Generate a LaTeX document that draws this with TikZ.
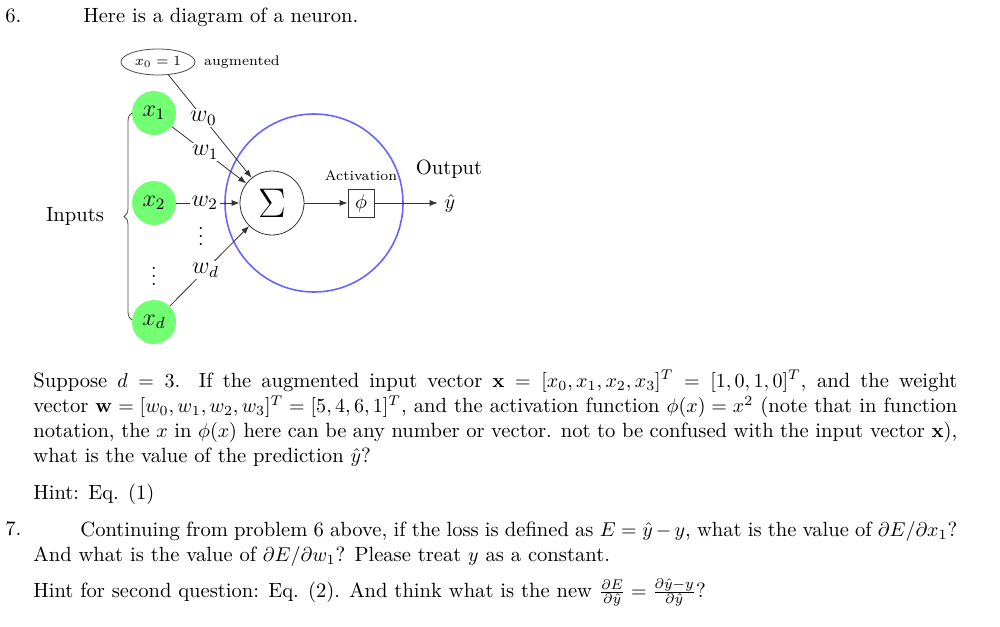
\documentclass[tikz,border=0pt]{standalone}
\usepackage{amsmath,amssymb}
\usetikzlibrary{arrows.meta,decorations.pathreplacing,shapes.geometric}
\begin{document}
\begin{tikzpicture}[x=0.5pt,y=-0.5pt,
  inp/.style={circle,fill=green!55!white,minimum size=22pt,inner sep=0pt},
  wlab/.style={fill=white,inner sep=1pt,font=\large},
  arr/.style={-{Latex[length=4pt]},draw=black!80},
  line/.style={anchor=base west,inner sep=0pt,font=\fontsize{10.3}{12.6}\selectfont},
  para/.style={anchor=north west,text width=462pt,align=justify,inner sep=0pt,font=\fontsize{10.3}{12.6}\selectfont}]
\useasboundingbox (0,0) rectangle (1000,626);
\node[line] (n6) at (5,23) {6.};
\node[line] (t6) at (83,23) {Here is a diagram of a neuron.};
% diagram
\node[ellipse,draw=black!70,minimum width=37pt,minimum height=13pt,inner sep=0pt,font=\scriptsize] (x0) at (158,62) {$x_0=1$};
\node[font=\scriptsize] (aug) at (242,62) {augmented};
\node[inp] (x1) at (154,113) {\large$x_1$};
\node[inp] (x2) at (154,203) {\large$x_2$};
\node[inp] (xd) at (154,322) {\large$x_d$};
\node (vd) at (154,270) {$\vdots$};
\draw[black!70,decorate,decoration={brace,amplitude=4pt}] (132,320) -- (132,113) coordinate (br);
\node[font=\fontsize{10.3}{12}\selectfont] (inputs) at (75,216) {Inputs};
\draw[blue!60,thick] (314,203) circle[radius=44.5pt];
\node[circle,draw=black!80,minimum size=32pt,inner sep=0pt,font=\huge] (sig) at (272,203) {$\Sigma$};
\node[draw=black!80,minimum width=13pt,minimum height=14pt,inner sep=0pt] (phi) at (361,203) {$\phi$};
\node[font=\scriptsize] (act) at (361,176) {Activation};
\node[font=\fontsize{10.3}{12}\selectfont] (out) at (449,169) {Output};
\node (yh) at (450,203) {$\hat y$};
\draw[arr] (x0) -- node[wlab,pos=0.42] {$w_0$} (sig);
\draw[arr] (x1) -- node[wlab,pos=0.45] {$w_1$} (sig);
\draw[arr] (x2) -- node[wlab,pos=0.45] {$w_2$} (sig);
\draw[arr] (xd) -- node[wlab,pos=0.45] {$w_d$} (sig);
\node (wd2) at (201,230) {$\vdots$};
\draw[arr] (sig) -- (phi);
\draw[arr] (phi) -- (yh);
% text
\node[para] (p1) at (33,370) {Suppose $d=3$. If the augmented input vector $\mathbf{x}=[x_0,x_1,x_2,x_3]^T=[1,0,1,0]^T$, and the weight vector $\mathbf{w}=[w_0,w_1,w_2,w_3]^T=[5,4,6,1]^T$, and the activation function $\phi(x)=x^2$ (note that in function notation, the $x$ in $\phi(x)$ here can be any number or vector. not to be confused with the input vector $\mathbf{x}$), what is the value of the prediction $\hat y$?};
\node[line] (h1) at (33,499) {Hint: Eq. (1)};
\node[line] (n7) at (5,535) {7.};
\node[para] (p2) at (33,521) {\hspace*{23.5pt}Continuing from problem 6 above, if the loss is defined as $E=\hat y-y$, what is the value of $\partial E/\partial x_1$? And what is the value of $\partial E/\partial w_1$? Please treat $y$ as a constant.};
\node[line] (h2) at (33,597) {Hint for second question: Eq. (2). And think what is the new $\frac{\partial E}{\partial\hat y}=\frac{\partial\hat y-y}{\partial\hat y}$?};
\end{tikzpicture}
\end{document}
